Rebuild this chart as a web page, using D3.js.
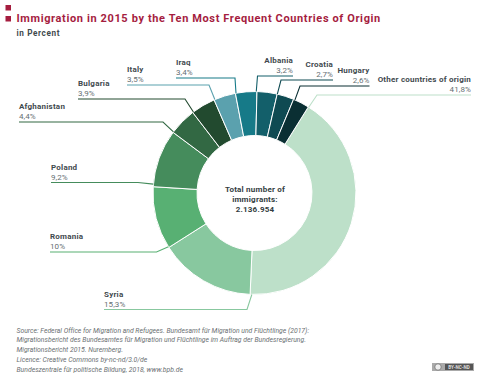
<!DOCTYPE html>
<html><head><meta charset="utf-8">
<script src="https://cdn.jsdelivr.net/npm/d3@7"></script>
<style>html,body{margin:0;padding:0;background:#fff}svg{display:block}text{font-family:Roboto,sans-serif}</style>
</head><body><svg id="c" width="490" height="376"></svg>
<script>
const categories=["Other countries of origin","Syria","Romania","Poland","Afghanistan","Bulgaria","Italy","Iraq","Albania","Croatia","Hungary"];
const values=[41.8,15.3,10,9.2,4.4,3.9,3.5,3.4,3.2,2.7,2.6];
const valueLabels=["41,8%","15,3%","10%","9,2%","4,4%","3,9%","3,5%","3,4%","3,2%","2,7%","2,6%"];
const colors=["#bde0c9","#88c89f","#58b073","#458c5c","#326843","#224a2f","#5ba1ae","#167a88","#135f6a","#0f4a52","#0a2f33"];
// annotation layout: [rule far end x, rule y, elbow x, label anchor, leader angle in degrees clockwise from 12 o'clock]
const leaderLayout=[
 [471,95,317,"end",32.3],[104,309.5,247,"start",181.5],[50,252,156.5,"start",238],[51,182.5,138,"start",275],
 [19,122,163,"start",307],[78,99,185,"start",323],[127,85,209,"start",337],[176,78,235,"start",349.5],
 [293,76,257.5,"end",1],[333,80,281,"end",13],[369.5,86,300,"end",23.5]];
const titleText="Immigration in 2015 by the Ten Most Frequent Countries of Origin";
const subtitleText="in Percent";
const centerLines=["Total number of","immigrants:","2.136.954"];
const sourceLines=["Source: Federal Office for Migration and Refugees. Bundesamt für Migration und Flüchtlinge (2017):",
"Migrationsbericht des Bundesamtes für Migration und Flüchtlinge im Auftrag der Bundesregierung.",
"Migrationsbericht 2015. Nuremberg.","Licence: Creative Commons by-nc-nd/3.0/de","Bundeszentrale für politische Bildung, 2018, www.bpb.de"];

const svg=d3.select("#c"),cx=254.5,cy=193,R=101.5,r0=57.5;
svg.selectAll(".sq").data([5,16]).join("rect").attr("x",5.5).attr("y",d=>d).attr("width",5.5).attr("height",5.5).attr("fill","#a51d3f");
svg.append("text").attr("x",16.5).attr("y",22).attr("fill","#a51d3f").attr("font-size",11).attr("font-weight",700).style("letter-spacing","0.62px").text(titleText);
svg.append("text").attr("x",16.5).attr("y",36).attr("fill","#3f4a4e").attr("font-size",8.2).attr("font-weight",700).style("letter-spacing","0.62px").text(subtitleText);

const g=svg.append("g").attr("transform",`translate(${cx},${cy})`);
const toRad=Math.PI/180;
const pie=d3.pie().sort(null).startAngle(32*toRad).endAngle(392*toRad);
const arcs=pie(values);
const arc=d3.arc().innerRadius(r0).outerRadius(R);
g.selectAll("path").data(arcs).join("path").attr("d",arc).attr("fill",(d,i)=>colors[i]).attr("stroke","#fff").attr("stroke-width",1);

leaderLayout.forEach((l,i)=>{
 const [x0,y,xe,anchor,deg]=l;
 const a=deg*toRad;
 const ex=cx+R*Math.sin(a),ey=cy-R*Math.cos(a);
 svg.append("path").attr("fill","none").attr("stroke",colors[i]).attr("stroke-width",1.1)
   .attr("d",d3.line()([[x0,y],[xe,y],[ex,ey]]));
 svg.append("text").attr("x",x0).attr("y",y-13).attr("text-anchor",anchor).attr("font-size",8).attr("font-weight",700).attr("fill","#3f4a4e").style("letter-spacing","0.22px").text(categories[i]);
 svg.append("text").attr("x",x0).attr("y",y-3).attr("text-anchor",anchor).attr("font-size",8).attr("fill","#666f73").style("letter-spacing","0.1px").text(valueLabels[i]);
});
svg.selectAll(".ct").data(centerLines).join("text").attr("x",cx+.5).attr("y",(d,i)=>192+i*10).attr("text-anchor","middle").attr("font-size",8).attr("font-weight",700).attr("fill","#333d41").style("letter-spacing","0.22px").text(d=>d);
svg.selectAll(".src").data(sourceLines).join("text").attr("x",16.5).attr("y",(d,i)=>332.5+i*9.75).attr("font-size",6.8).attr("font-style","italic").attr("fill","#6a6f72").style("letter-spacing","0.01px").text(d=>d);
const b=svg.append("g");
b.append("rect").attr("x",432).attr("y",363).attr("width",42).attr("height",8).attr("fill","#aaa");
b.append("rect").attr("x",445).attr("y",364).attr("width",28).attr("height",6).attr("fill","#555");
b.append("circle").attr("cx",438).attr("cy",367).attr("r",3.2).attr("fill","#eee").attr("stroke","#555").attr("stroke-width",.6);
b.append("text").attr("x",459).attr("y",369).attr("text-anchor","middle").attr("font-size",4.6).attr("font-weight",700).attr("fill","#ddd").text("BY-NC-ND");
</script></body></html>
